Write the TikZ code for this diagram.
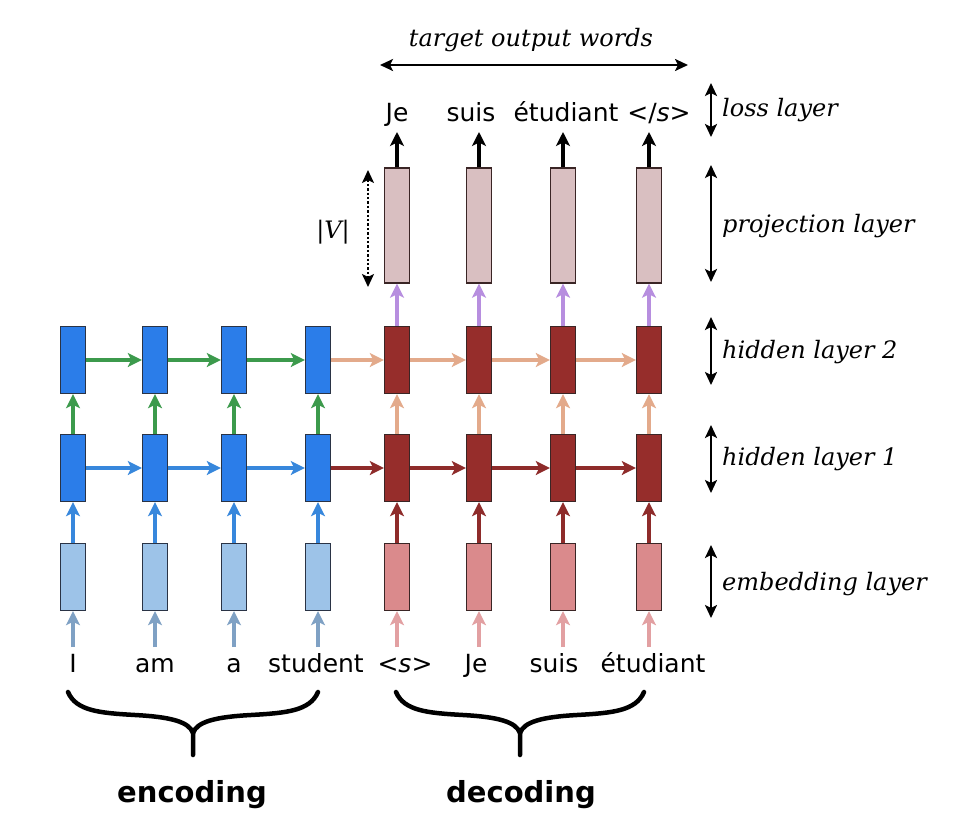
\documentclass[tikz,border=0pt]{standalone}
\usepackage{fontspec}
\setmainfont{DejaVu Sans}
\newfontfamily\labfont{DejaVu Serif}
\usetikzlibrary{arrows.meta}
\definecolor{encH}{HTML}{2B7DE9}
\definecolor{encE}{HTML}{9DC3E8}
\definecolor{decH}{HTML}{962D2B}
\definecolor{decE}{HTML}{DA8A8C}
\definecolor{projC}{HTML}{D9BFC1}
\definecolor{boxline}{HTML}{2A3345}
\definecolor{decline}{HTML}{3A2525}
\definecolor{greenA}{HTML}{3C9A4C}
\definecolor{blueA}{HTML}{3787DC}
\definecolor{redA}{HTML}{8E2B2A}
\definecolor{tanA}{HTML}{E3AA8B}
\definecolor{purA}{HTML}{B78EDF}
\definecolor{inE}{HTML}{7FA1C4}
\definecolor{inD}{HTML}{E2A0A2}
\tikzset{
  box/.style={draw=boxline, line width=1.4pt, minimum width=25pt, minimum height=67pt, inner sep=0pt},
  ench/.style={box, fill=encH},
  ence/.style={box, fill=encE},
  dech/.style={box, fill=decH, draw=decline},
  dece/.style={box, fill=decE, draw=decline},
  projbox/.style={box, fill=projC, draw=decline, minimum height=115pt},
  arr/.style={line width=3.2pt, -{Stealth[length=14pt,width=14pt,inset=3.5pt]}},
  darr/.style={line width=2.4pt, {Stealth[length=13pt,width=12pt,inset=3pt]}-{Stealth[length=13pt,width=12pt,inset=3pt]}},
  word/.style={font=\fontsize{25}{30}\selectfont, inner sep=0pt, anchor=base},
  lab/.style={font=\labfont\itshape\fontsize{24}{28}\selectfont, inner sep=0pt, anchor=base west},
  biglab/.style={font=\bfseries\fontsize{29}{35}\selectfont, inner sep=0pt, anchor=base},
  brace/.style={line width=4.5pt, line cap=round, line join=round}
}
\begin{document}
\begin{tikzpicture}[x=1pt,y=-1pt]
\useasboundingbox (0,0) rectangle (956,832);
\fill[white] (0,0) rectangle (956,832);

% encoder nodes
\foreach \n/\x in {1/73,2/155,3/234,4/318} {
  \node[ence] (ee\n) at (\x,577) {};
  \node[ench] (eh\n) at (\x,468) {};
  \node[ench] (eg\n) at (\x,360) {};
  \coordinate (ei\n) at (\x,647);
}
% decoder nodes
\foreach \n/\x in {1/397,2/479,3/563,4/649} {
  \node[dece] (de\n) at (\x,577) {};
  \node[dech] (dh\n) at (\x,468) {};
  \node[dech] (dg\n) at (\x,360) {};
  \node[projbox] (p\n) at (\x,225.5) {};
  \coordinate (di\n) at (\x,647);
  \coordinate (do\n) at (\x,132);
}

% vertical connectors
\foreach \n in {1,...,4} {
  \draw[arr,inE] (ei\n) -- (ee\n);
  \draw[arr,blueA] (ee\n) -- (eh\n);
  \draw[arr,greenA] (eh\n) -- (eg\n);
  \draw[arr,inD] (di\n) -- (de\n);
  \draw[arr,redA] (de\n) -- (dh\n);
  \draw[arr,tanA] (dh\n) -- (dg\n);
  \draw[arr,purA] (dg\n) -- (p\n);
  \draw[arr,black] (p\n) -- (do\n);
}
% horizontal connectors
\foreach \a/\b in {1/2,2/3,3/4} {
  \draw[arr,blueA] (eh\a) -- (eh\b);
  \draw[arr,greenA] (eg\a) -- (eg\b);
  \draw[arr,redA] (dh\a) -- (dh\b);
  \draw[arr,tanA] (dg\a) -- (dg\b);
}
\draw[arr,redA] (eh4) -- (dh1);
\draw[arr,tanA] (eg4) -- (dg1);

% input words
\node[word] (wI) at (73,672) {I};
\node[word] (wam) at (155,672) {am};
\node[word] (wa) at (234,672) {a};
\node[word] (wstudent) at (316,672) {student};
\node[word] (ws) at (405,672) {<\textit{s}>};
\node[word] (wJe) at (476,672) {Je};
\node[word] (wsuis) at (554,672) {suis};
\node[word] (wetud) at (653,672) {étudiant};

% output words
\node[word] (oJe) at (397,122) {Je};
\node[word] (osuis) at (471,122) {suis};
\node[word] (oetud) at (566,122) {étudiant};
\node[word] (oend) at (659,122) {</\textit{s}>};

% target output words
\node[lab, anchor=base] (tow) at (531,47) {target output words};
\coordinate (tl) at (380,65);
\coordinate (tr) at (688,65);
\draw[darr] (tl) -- (tr);

% |V|
\node[lab, anchor=base] (vlab) at (333,238) {|V|};
\coordinate (vt) at (368,170);
\coordinate (vb) at (368,287);
\draw[darr, dotted, line width=2pt] (vt) -- (vb);

% layer labels
\coordinate (l1t) at (711,83);  \coordinate (l1b) at (711,137);
\coordinate (l2t) at (711,165); \coordinate (l2b) at (711,282);
\coordinate (l3t) at (711,317); \coordinate (l3b) at (711,385);
\coordinate (l4t) at (711,425); \coordinate (l4b) at (711,493);
\coordinate (l5t) at (711,545); \coordinate (l5b) at (711,618);
\draw[darr] (l1t) -- (l1b);
\draw[darr] (l2t) -- (l2b);
\draw[darr] (l3t) -- (l3b);
\draw[darr] (l4t) -- (l4b);
\draw[darr] (l5t) -- (l5b);
\node[lab] (loss) at (722,117) {loss layer};
\node[lab] (projl) at (722,232) {projection layer};
\node[lab] (hid2) at (722,358) {hidden layer 2};
\node[lab] (hid1) at (722,465) {hidden layer 1};
\node[lab] (embl) at (722,590) {embedding layer};

% braces
\draw[brace] (68,692) .. controls (76,711) and (100,713) .. (135,715)
  .. controls (172,717) and (189,722) .. (193,733) -- (193,755);
\draw[brace] (318,692) .. controls (310,711) and (286,713) .. (251,715)
  .. controls (214,717) and (197,722) .. (193,733);
\draw[brace] (396,692) .. controls (404,711) and (428,713) .. (463,715)
  .. controls (499,717) and (516,722) .. (520,733) -- (520,755);
\draw[brace] (644,692) .. controls (636,711) and (612,713) .. (577,715)
  .. controls (541,717) and (524,722) .. (520,733);

\node[biglab] (enc) at (192,802) {encoding};
\node[biglab] (dec) at (521,802) {decoding};
\end{tikzpicture}
\end{document}
